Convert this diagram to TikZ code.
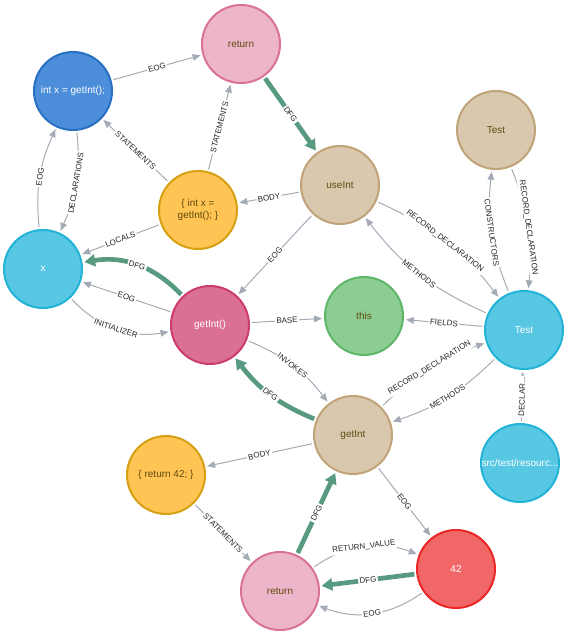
\documentclass[tikz,border=0pt]{standalone}
\usepackage{fontspec}
\setmainfont{Liberation Sans}
\usepackage{tikz}
\usetikzlibrary{arrows.meta}

\definecolor{edgegray}{HTML}{A5ABB6}
\definecolor{dfggreen}{HTML}{579A80}
\definecolor{darktext}{HTML}{604A0E}
\definecolor{pinkfill}{HTML}{ECB5C9}\definecolor{pinkline}{HTML}{DA7298}
\definecolor{bluefill}{HTML}{4C8EDA}\definecolor{blueline}{HTML}{2870C2}
\definecolor{yellowfill}{HTML}{FFC454}\definecolor{yellowline}{HTML}{D7A013}
\definecolor{cyanfill}{HTML}{57C7E3}\definecolor{cyanline}{HTML}{23B3D7}
\definecolor{tanfill}{HTML}{D9C8AE}\definecolor{tanline}{HTML}{C0A378}
\definecolor{greenfill}{HTML}{8DCC93}\definecolor{greenline}{HTML}{5DB665}
\definecolor{rosefill}{HTML}{DA7194}\definecolor{roseline}{HTML}{CC3C6C}
\definecolor{redfill}{HTML}{F16667}\definecolor{redline}{HTML}{EB2728}

\tikzset{
    vertex/.style={circle,draw,minimum size=58.5pt,inner sep=0pt,line width=1.5pt,align=center,font=\fontsize{7.5}{8.5}\selectfont},
    retnode/.style={vertex,fill=pinkfill,draw=pinkline,text=darktext},
    declnode/.style={vertex,fill=bluefill,draw=blueline,text=white},
    blocknode/.style={vertex,fill=yellowfill,draw=yellowline,text=darktext},
    refnode/.style={vertex,fill=cyanfill,draw=cyanline,text=white},
    funcnode/.style={vertex,fill=tanfill,draw=tanline,text=darktext},
    thisnode/.style={vertex,fill=greenfill,draw=greenline,text=darktext},
    callnode/.style={vertex,fill=rosefill,draw=roseline,text=white},
    litnode/.style={vertex,fill=redfill,draw=redline,text=white},
    rel/.style={draw=edgegray,line width=0.75pt,-{Triangle[length=6pt,width=5pt]},shorten >=1.5pt,shorten <=1.5pt},
    dfg/.style={draw=dfggreen,line width=3.5pt,-{Triangle[length=8pt,width=9pt]},shorten >=1.5pt,shorten <=1.5pt},
    lbl/.style={fill=white,inner sep=1pt,sloped,midway,text=black!85,font=\fontsize{6}{6}\selectfont}
}

\begin{document}
\begin{tikzpicture}[x=0.75pt,y=0.75pt]
        \useasboundingbox (0,0) rectangle (568,-635);

        \node[retnode] (ret1) at (241,-44) {return};
        \node[declnode] (ixdecl) at (73,-91) {int x = getInt();};
        \node[funcnode] (testrec) at (496,-130) {Test};
        \node[blocknode] (block1) at (198,-210) {\{ int x =\\getInt(); \}};
        \node[funcnode] (useint) at (340,-185) {useInt};
        \node[refnode] (xvar) at (43,-269) {x};
        \node[callnode] (call) at (210,-325) {getInt()};
        \node[thisnode] (thisref) at (364,-316) {this};
        \node[refnode] (testcls) at (524,-330) {Test};
        \node[funcnode] (getint) at (353,-435) {getInt};
        \node[refnode] (file) at (520,-463) {src/test/resourc...};
        \node[blocknode] (block2) at (166,-475) {\{ return 42; \}};
        \node[retnode] (ret2) at (280,-591) {return};
        \node[litnode] (lit) at (456,-569) {42};

        \draw[rel] (ixdecl) -- node[lbl]{EOG} (ret1);
        \draw[rel] (block1) -- node[lbl]{STATEMENTS} (ixdecl);
        \draw[rel] (block1) -- node[lbl]{STATEMENTS} (ret1);
        \draw[dfg] (ret1) -- node[lbl]{DFG} (useint);
        \draw[rel] (useint) -- node[lbl]{BODY} (block1);
        \draw[rel] (xvar) to[bend left=15] node[lbl]{EOG} (ixdecl);
        \draw[rel] (ixdecl) to[bend left=15] node[lbl]{DECLARATIONS} (xvar);
        \draw[rel] (block1) -- node[lbl]{LOCALS} (xvar);
        \draw[dfg] (call) to[bend right=28] node[lbl]{DFG} (xvar);
        \draw[rel] (call) -- node[lbl]{EOG} (xvar);
        \draw[rel] (xvar) to[bend right=28] node[lbl]{INITIALIZER} (call);
        \draw[rel] (useint) -- node[lbl]{EOG} (call);
        \draw[rel] (call) -- node[lbl]{BASE} (thisref);
        \draw[rel] (testcls) -- node[lbl]{FIELDS} (thisref);
        \draw[rel] (useint) to[bend left=14] node[lbl]{RECORD\_DECLARATION} (testcls);
        \draw[rel] (testcls) to[bend left=14] node[lbl]{METHODS} (useint);
        \draw[rel] (testcls) to[bend left=14] node[lbl]{CONSTRUCTORS} (testrec);
        \draw[rel] (testrec) to[bend left=14] node[lbl]{RECORD\_DECLARATION} (testcls);
        \draw[rel] (call) to[bend left=15] node[lbl]{INVOKES} (getint);
        \draw[dfg] (getint) to[bend left=15] node[lbl]{DFG} (call);
        \draw[rel] (getint) to[bend left=13] node[lbl]{RECORD\_DECLARATION} (testcls);
        \draw[rel] (testcls) to[bend left=13] node[lbl]{METHODS} (getint);
        \draw[rel] (file) -- node[lbl]{DECLAR...} (testcls);
        \draw[rel] (getint) -- node[lbl]{BODY} (block2);
        \draw[rel] (block2) -- node[lbl]{STATEMENTS} (ret2);
        \draw[dfg] (ret2) -- node[lbl]{DFG} (getint);
        \draw[rel] (getint) -- node[lbl]{EOG} (lit);
        \draw[rel] (ret2) to[bend left=28] node[lbl]{RETURN\_VALUE} (lit);
        \draw[dfg] (lit) -- node[lbl]{DFG} (ret2);
        \draw[rel] (lit) to[bend left=28] node[lbl]{EOG} (ret2);
    \end{tikzpicture}
\end{document}
